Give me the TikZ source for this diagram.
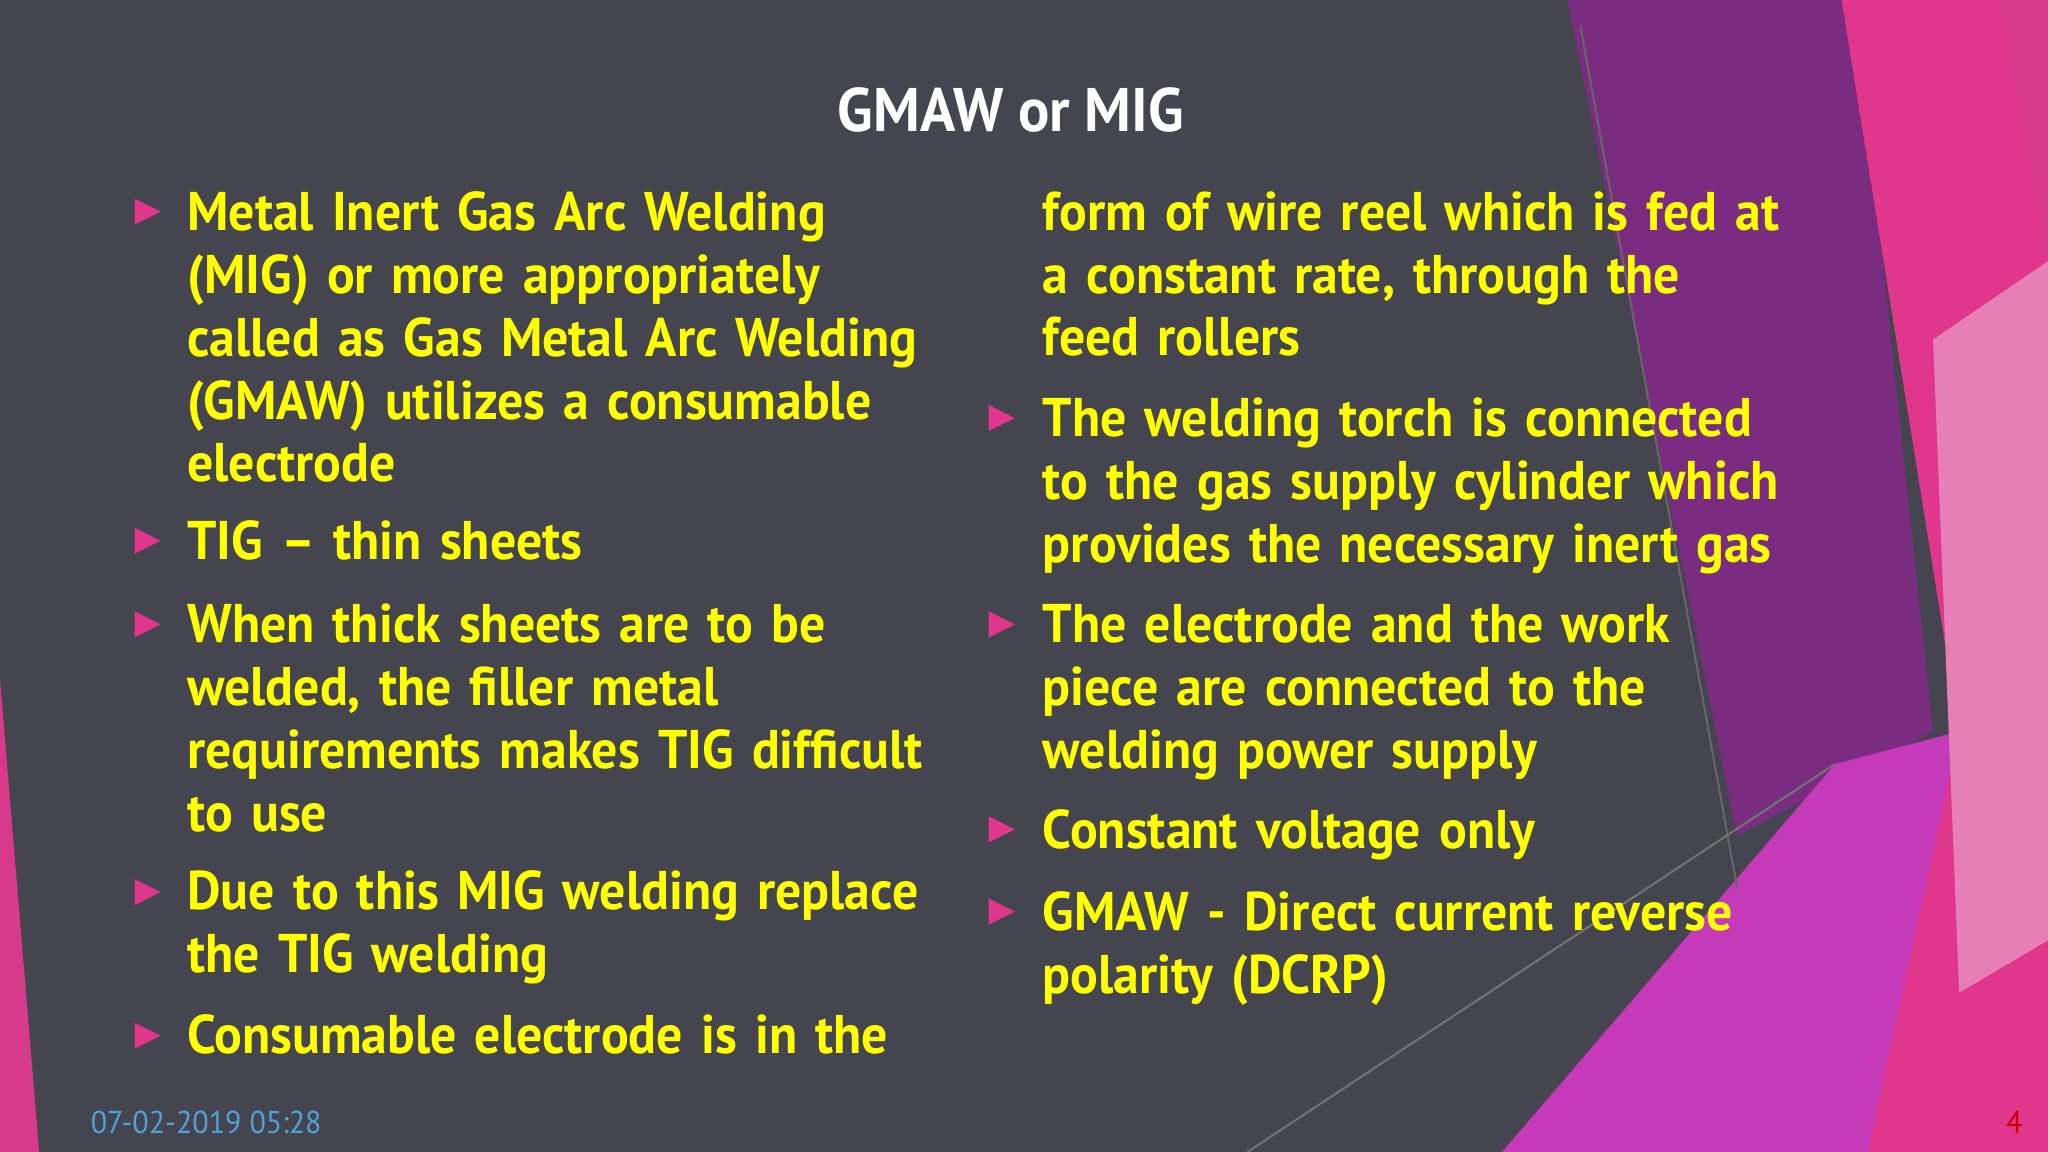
\documentclass[tikz,border=0pt]{standalone}
\usepackage{fontspec}
\setmainfont{PT Sans}[FakeStretch=0.95]
\definecolor{bg}{HTML}{45454F}
\definecolor{yel}{HTML}{FFFF00}
\definecolor{pk}{HTML}{E0368C}
\definecolor{purp}{HTML}{7A2C80}
\definecolor{mag}{HTML}{C43AB8}
\definecolor{lpk}{HTML}{E67FB6}
\definecolor{dpk}{HTML}{D83A8A}
\definecolor{dateblue}{HTML}{4FA3D9}
\newcommand{\jl}[1]{\makebox[7.97cm][s]{#1}\\}
\tikzset{
 txt/.style={anchor=north west,text=yel,font=\fontsize{15.5}{17.9}\selectfont\bfseries,inner sep=0pt,text width=7.97cm,align=left},
 bul/.style={fill=pk,draw=none},
}
\begin{document}
\begin{tikzpicture}[x=0.013061cm,y=-0.013061cm]
\fill[bg] (0,0) rectangle (1568,882);
\useasboundingbox (0,0) rectangle (1568,882);
% decorations
\fill[purp] (1200,0) -- (1420,0) -- (1480,560) -- (1330,640) -- cycle;
\fill[pk] (1410,0) -- (1530,0) -- (1568,0) -- (1568,882) -- (1420,882) -- (1500,560) -- cycle;
\fill[mag] (1150,882) -- (1405,585) -- (1500,560) -- (1430,882) -- cycle;
\fill[lpk] (1480,260) -- (1568,200) -- (1568,720) -- (1500,760) -- cycle;
\fill[dpk] (1530,0) -- (1568,0) -- (1568,200) -- cycle;
\fill[dpk] (0,520) -- (30,882) -- (0,882) -- cycle;
\draw[black!60,line width=0.6pt] (1210,20) -- (1330,680);
\draw[black!55,line width=0.6pt] (955,882) -- (1405,585);
% title
\node[text=white,font=\fontsize{17.5}{20}\selectfont\bfseries] (title) at (774,84) {GMAW or MIG};
% bullets
\foreach \x/\y in {103/162,103/414,103/478,103/683,103/793,757/320,757/478,757/635,757/698}{
 \fill[bul] (\x,\y-10) -- (\x+20,\y) -- (\x,\y+10) -- cycle;}
% left column
\node[txt] (l1) at (143,146) {\jl{Metal Inert Gas Arc Welding}\jl{(MIG) or more appropriately}\jl{called as Gas Metal Arc Welding}\jl{(GMAW) utilizes a consumable}electrode};
\node[txt] (l2) at (143,398) {TIG – thin sheets};
\node[txt] (l3) at (143,462) {\jl{When thick sheets are to be}\jl{welded, the filler metal}\jl{requirements makes TIG difficult}to use};
\node[txt] (l4) at (143,666) {\jl{Due to this MIG welding replace}the TIG welding};
\node[txt] (l5) at (143,776) {\makebox[7.97cm][s]{Consumable electrode is in the}};
% right column
\node[txt] (r1) at (798,146) {\jl{form of wire reel which is fed at}\jl{a constant rate, through the}feed rollers};
\node[txt] (r2) at (798,304) {\jl{The welding torch is connected}\jl{to the gas supply cylinder which}provides the necessary inert gas};
\node[txt] (r3) at (798,462) {\jl{The electrode and the work}\jl{piece are connected to the}welding power supply};
\node[txt] (r4) at (798,619) {Constant voltage only};
\node[txt] (r5) at (798,682) {\jl{GMAW - Direct current reverse}polarity (DCRP)};
% footer
\node[text=dateblue,font=\fontsize{9}{10}\selectfont,anchor=west] (date) at (60,859) {07-02-2019 05:28};
\node[text=red!80!black,font=\fontsize{9}{10}\selectfont,anchor=east] (pg) at (1558,859) {4};
\end{tikzpicture}
\end{document}
